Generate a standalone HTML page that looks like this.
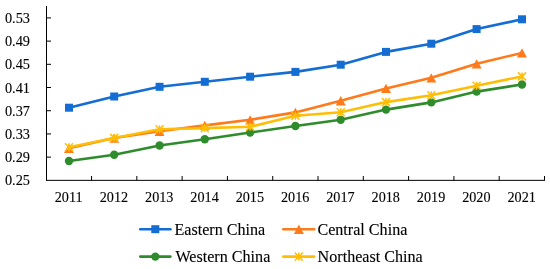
<!DOCTYPE html><html><head><meta charset="utf-8"><title>chart</title><style>html,body{margin:0;padding:0;background:#fff}svg{display:block}</style></head><body><svg width="550" height="269" viewBox="0 0 550 269">
<rect width="550" height="269" fill="#fff"/>
<g stroke="#000" stroke-width="1" fill="none">
<line x1="46.5" y1="6.0" x2="46.5" y2="180.85"/>
<line x1="46.5" y1="180.35" x2="545.0" y2="180.35"/>
<line x1="46.5" y1="17.90" x2="51" y2="17.90"/>
<line x1="46.5" y1="41.11" x2="51" y2="41.11"/>
<line x1="46.5" y1="64.31" x2="51" y2="64.31"/>
<line x1="46.5" y1="87.52" x2="51" y2="87.52"/>
<line x1="46.5" y1="110.73" x2="51" y2="110.73"/>
<line x1="46.5" y1="133.94" x2="51" y2="133.94"/>
<line x1="46.5" y1="157.14" x2="51" y2="157.14"/>
<line x1="91.55" y1="180.35" x2="91.55" y2="176"/>
<line x1="136.84" y1="180.35" x2="136.84" y2="176"/>
<line x1="182.13" y1="180.35" x2="182.13" y2="176"/>
<line x1="227.43" y1="180.35" x2="227.43" y2="176"/>
<line x1="272.73" y1="180.35" x2="272.73" y2="176"/>
<line x1="318.02" y1="180.35" x2="318.02" y2="176"/>
<line x1="363.31" y1="180.35" x2="363.31" y2="176"/>
<line x1="408.61" y1="180.35" x2="408.61" y2="176"/>
<line x1="453.91" y1="180.35" x2="453.91" y2="176"/>
<line x1="499.20" y1="180.35" x2="499.20" y2="176"/>
<line x1="544.50" y1="180.35" x2="544.50" y2="176"/>
</g>
<g font-family="'Liberation Serif', serif" fill="#000" stroke="#000" stroke-width="0.12">
<text transform="translate(4.90,23.00) scale(0.93,1)" font-size="15.4" text-anchor="start">0.53</text>
<text transform="translate(4.90,46.21) scale(0.93,1)" font-size="15.4" text-anchor="start">0.49</text>
<text transform="translate(4.90,69.41) scale(0.93,1)" font-size="15.4" text-anchor="start">0.45</text>
<text transform="translate(4.90,92.62) scale(0.93,1)" font-size="15.4" text-anchor="start">0.41</text>
<text transform="translate(4.90,115.83) scale(0.93,1)" font-size="15.4" text-anchor="start">0.37</text>
<text transform="translate(4.90,139.04) scale(0.93,1)" font-size="15.4" text-anchor="start">0.33</text>
<text transform="translate(4.90,162.24) scale(0.93,1)" font-size="15.4" text-anchor="start">0.29</text>
<text transform="translate(4.90,185.45) scale(0.93,1)" font-size="15.4" text-anchor="start">0.25</text>
<text transform="translate(68.65,202.15) scale(0.922,1)" font-size="15.4" text-anchor="middle">2011</text>
<text transform="translate(113.95,202.15) scale(0.922,1)" font-size="15.4" text-anchor="middle">2012</text>
<text transform="translate(159.25,202.15) scale(0.922,1)" font-size="15.4" text-anchor="middle">2013</text>
<text transform="translate(204.55,202.15) scale(0.922,1)" font-size="15.4" text-anchor="middle">2014</text>
<text transform="translate(249.85,202.15) scale(0.922,1)" font-size="15.4" text-anchor="middle">2015</text>
<text transform="translate(295.15,202.15) scale(0.922,1)" font-size="15.4" text-anchor="middle">2016</text>
<text transform="translate(340.45,202.15) scale(0.922,1)" font-size="15.4" text-anchor="middle">2017</text>
<text transform="translate(385.75,202.15) scale(0.922,1)" font-size="15.4" text-anchor="middle">2018</text>
<text transform="translate(431.05,202.15) scale(0.922,1)" font-size="15.4" text-anchor="middle">2019</text>
<text transform="translate(476.35,202.15) scale(0.922,1)" font-size="15.4" text-anchor="middle">2020</text>
<text transform="translate(521.65,202.15) scale(0.922,1)" font-size="15.4" text-anchor="middle">2021</text>
</g>
<polyline points="68.95,107.70 114.25,96.50 159.55,86.80 204.85,81.80 250.15,76.70 295.45,71.90 340.75,64.70 386.05,51.90 431.35,43.70 476.65,29.10 521.95,19.30" fill="none" stroke="#146DD3" stroke-width="2.6" stroke-linejoin="round" stroke-linecap="round"/>
<rect x="65.0" y="103.7" width="8" height="8" fill="#146DD3"/>
<rect x="110.2" y="92.5" width="8" height="8" fill="#146DD3"/>
<rect x="155.6" y="82.8" width="8" height="8" fill="#146DD3"/>
<rect x="200.8" y="77.8" width="8" height="8" fill="#146DD3"/>
<rect x="246.1" y="72.7" width="8" height="8" fill="#146DD3"/>
<rect x="291.4" y="67.9" width="8" height="8" fill="#146DD3"/>
<rect x="336.7" y="60.7" width="8" height="8" fill="#146DD3"/>
<rect x="382.0" y="47.9" width="8" height="8" fill="#146DD3"/>
<rect x="427.3" y="39.7" width="8" height="8" fill="#146DD3"/>
<rect x="472.6" y="25.1" width="8" height="8" fill="#146DD3"/>
<rect x="518.0" y="15.3" width="8" height="8" fill="#146DD3"/>
<polyline points="68.95,148.30 114.25,138.00 159.55,131.30 204.85,125.40 250.15,119.80 295.45,112.40 340.75,100.70 386.05,88.40 431.35,77.80 476.65,63.80 521.95,52.90" fill="none" stroke="#FF7A1A" stroke-width="2.6" stroke-linejoin="round" stroke-linecap="round"/>
<polygon points="69.0,143.7 73.90,153.0 64.00,153.0" fill="#FF7A1A"/>
<polygon points="114.2,133.4 119.20,142.7 109.30,142.7" fill="#FF7A1A"/>
<polygon points="159.6,126.7 164.50,136.0 154.60,136.0" fill="#FF7A1A"/>
<polygon points="204.8,120.8 209.80,130.1 199.90,130.1" fill="#FF7A1A"/>
<polygon points="250.1,115.2 255.10,124.5 245.20,124.5" fill="#FF7A1A"/>
<polygon points="295.4,107.8 300.40,117.1 290.50,117.1" fill="#FF7A1A"/>
<polygon points="340.7,96.1 345.70,105.4 335.80,105.4" fill="#FF7A1A"/>
<polygon points="386.0,83.8 391.00,93.1 381.10,93.1" fill="#FF7A1A"/>
<polygon points="431.3,73.2 436.30,82.5 426.40,82.5" fill="#FF7A1A"/>
<polygon points="476.6,59.2 481.60,68.5 471.70,68.5" fill="#FF7A1A"/>
<polygon points="522.0,48.3 526.90,57.6 517.00,57.6" fill="#FF7A1A"/>
<polyline points="68.95,161.00 114.25,154.70 159.55,145.50 204.85,139.25 250.15,132.50 295.45,126.00 340.75,119.70 386.05,109.60 431.35,102.40 476.65,91.60 521.95,84.50" fill="none" stroke="#2F8C2C" stroke-width="2.6" stroke-linejoin="round" stroke-linecap="round"/>
<circle cx="69.0" cy="161.0" r="4.2" fill="#2F8C2C"/>
<circle cx="114.2" cy="154.7" r="4.2" fill="#2F8C2C"/>
<circle cx="159.6" cy="145.5" r="4.2" fill="#2F8C2C"/>
<circle cx="204.8" cy="139.2" r="4.2" fill="#2F8C2C"/>
<circle cx="250.1" cy="132.5" r="4.2" fill="#2F8C2C"/>
<circle cx="295.4" cy="126.0" r="4.2" fill="#2F8C2C"/>
<circle cx="340.7" cy="119.7" r="4.2" fill="#2F8C2C"/>
<circle cx="386.0" cy="109.6" r="4.2" fill="#2F8C2C"/>
<circle cx="431.3" cy="102.4" r="4.2" fill="#2F8C2C"/>
<circle cx="476.6" cy="91.6" r="4.2" fill="#2F8C2C"/>
<circle cx="522.0" cy="84.5" r="4.2" fill="#2F8C2C"/>
<polyline points="68.95,147.20 114.25,137.90 159.55,129.30 204.85,128.10 250.15,126.80 295.45,115.80 340.75,112.20 386.05,102.10 431.35,95.20 476.65,85.80 521.95,76.40" fill="none" stroke="#FFBE06" stroke-width="2.6" stroke-linejoin="round" stroke-linecap="round"/>
<path d="M65.0,143.2L73.0,151.2M73.0,143.2L65.0,151.2M69.0,143.2L69.0,151.2" stroke="#FFBE06" stroke-width="1.5" fill="none"/>
<path d="M110.2,133.9L118.2,141.9M118.2,133.9L110.2,141.9M114.2,133.9L114.2,141.9" stroke="#FFBE06" stroke-width="1.5" fill="none"/>
<path d="M155.6,125.3L163.6,133.3M163.6,125.3L155.6,133.3M159.6,125.3L159.6,133.3" stroke="#FFBE06" stroke-width="1.5" fill="none"/>
<path d="M200.8,124.1L208.8,132.1M208.8,124.1L200.8,132.1M204.8,124.1L204.8,132.1" stroke="#FFBE06" stroke-width="1.5" fill="none"/>
<path d="M246.1,122.8L254.1,130.8M254.1,122.8L246.1,130.8M250.1,122.8L250.1,130.8" stroke="#FFBE06" stroke-width="1.5" fill="none"/>
<path d="M291.4,111.8L299.4,119.8M299.4,111.8L291.4,119.8M295.4,111.8L295.4,119.8" stroke="#FFBE06" stroke-width="1.5" fill="none"/>
<path d="M336.7,108.2L344.7,116.2M344.7,108.2L336.7,116.2M340.7,108.2L340.7,116.2" stroke="#FFBE06" stroke-width="1.5" fill="none"/>
<path d="M382.0,98.1L390.0,106.1M390.0,98.1L382.0,106.1M386.0,98.1L386.0,106.1" stroke="#FFBE06" stroke-width="1.5" fill="none"/>
<path d="M427.3,91.2L435.3,99.2M435.3,91.2L427.3,99.2M431.3,91.2L431.3,99.2" stroke="#FFBE06" stroke-width="1.5" fill="none"/>
<path d="M472.6,81.8L480.6,89.8M480.6,81.8L472.6,89.8M476.6,81.8L476.6,89.8" stroke="#FFBE06" stroke-width="1.5" fill="none"/>
<path d="M518.0,72.4L526.0,80.4M526.0,72.4L518.0,80.4M522.0,72.4L522.0,80.4" stroke="#FFBE06" stroke-width="1.5" fill="none"/>
<g font-family="'Liberation Serif', serif" fill="#000">
<line x1="140.3" y1="229.2" x2="170.4" y2="229.2" stroke="#146DD3" stroke-width="2.6" stroke-linecap="round"/><rect x="151.3" y="225.2" width="8" height="8" fill="#146DD3"/><text stroke="#000" stroke-width="0.12" transform="translate(174.40,234.65) scale(0.965,1)" font-size="16.7" text-anchor="start">Eastern China</text>
<line x1="283.3" y1="229.2" x2="314.2" y2="229.2" stroke="#FF7A1A" stroke-width="2.6" stroke-linecap="round"/><polygon points="298.9,224.6 303.85,233.9 293.95,233.9" fill="#FF7A1A"/><text stroke="#000" stroke-width="0.12" transform="translate(317.40,234.65) scale(0.965,1)" font-size="16.7" text-anchor="start">Central China</text>
<line x1="140.3" y1="256.6" x2="170.4" y2="256.6" stroke="#2F8C2C" stroke-width="2.6" stroke-linecap="round"/><circle cx="155.3" cy="256.6" r="4.2" fill="#2F8C2C"/><text stroke="#000" stroke-width="0.12" transform="translate(175.40,262.05) scale(0.965,1)" font-size="16.7" text-anchor="start">Western China</text>
<line x1="283.3" y1="256.6" x2="314.2" y2="256.6" stroke="#FFBE06" stroke-width="2.6" stroke-linecap="round"/><path d="M294.8,252.6L302.8,260.6M302.8,252.6L294.8,260.6M298.8,252.6L298.8,260.6" stroke="#FFBE06" stroke-width="1.5" fill="none"/><text stroke="#000" stroke-width="0.12" transform="translate(317.60,262.05) scale(0.965,1)" font-size="16.7" text-anchor="start">Northeast China</text>
</g>
</svg></body></html>
